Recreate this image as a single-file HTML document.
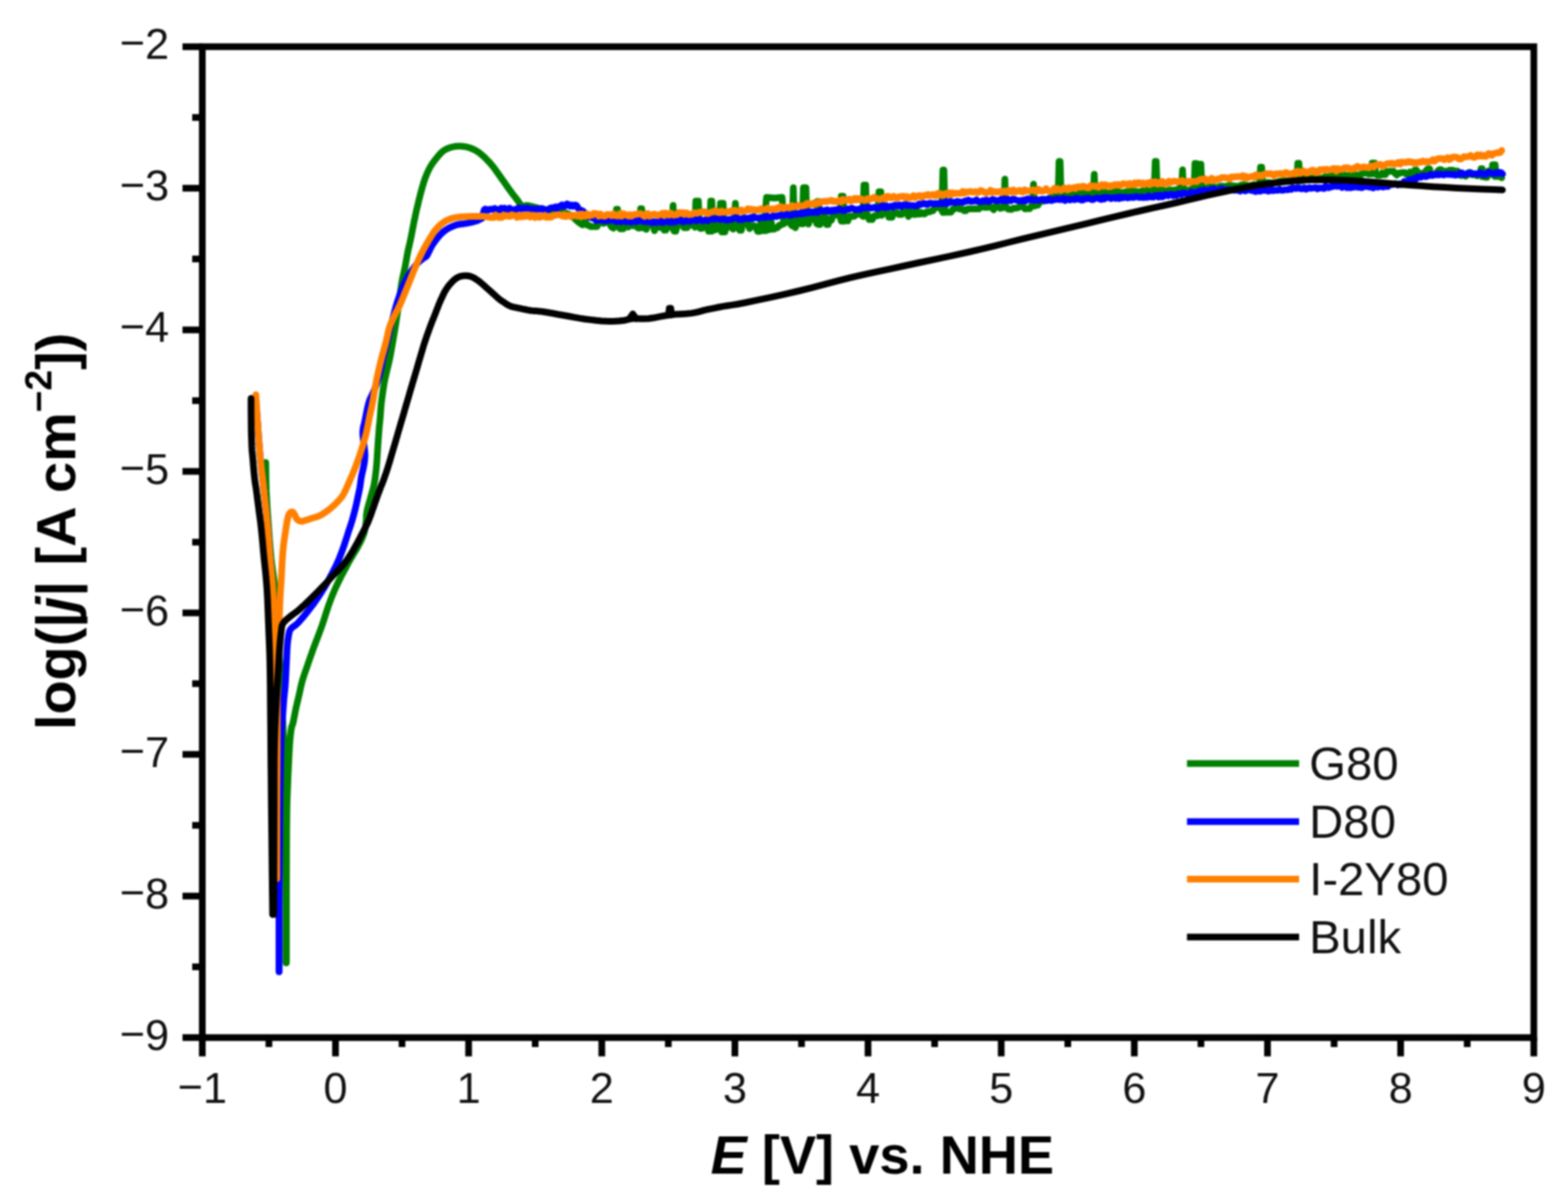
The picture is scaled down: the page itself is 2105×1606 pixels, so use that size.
<!DOCTYPE html>
<html><head><meta charset="utf-8"><title>Polarization curves</title>
<style>html,body{margin:0;padding:0;background:#fff;}body{width:2105px;height:1606px;overflow:hidden;}svg{display:block;filter:blur(0.8px);}</style>
</head><body><svg width="2105" height="1606" viewBox="0 0 2105 1606"><rect x="271.6" y="62.7" width="1787.5" height="1330.602" fill="none" stroke="#000" stroke-width="9"/><path d="M245.00000000000003,62.7H271.6M245.00000000000003,252.8H271.6M245.00000000000003,442.9H271.6M245.00000000000003,633.0H271.6M245.00000000000003,823.0H271.6M245.00000000000003,1013.1H271.6M245.00000000000003,1203.2H271.6M245.00000000000003,1393.3H271.6M258.0,157.7H271.6M258.0,347.8H271.6M258.0,537.9H271.6M258.0,728.0H271.6M258.0,918.1H271.6M258.0,1108.2H271.6M258.0,1298.3H271.6M271.6,1393.3V1418.5M450.4,1393.3V1418.5M629.1,1393.3V1418.5M807.9,1393.3V1418.5M986.6,1393.3V1418.5M1165.3,1393.3V1418.5M1344.1,1393.3V1418.5M1522.8,1393.3V1418.5M1701.6,1393.3V1418.5M1880.3,1393.3V1418.5M2059.1,1393.3V1418.5M361.0,1393.3V1405.9M539.7,1393.3V1405.9M718.5,1393.3V1405.9M897.2,1393.3V1405.9M1076.0,1393.3V1405.9M1254.7,1393.3V1405.9M1433.5,1393.3V1405.9M1612.2,1393.3V1405.9M1791.0,1393.3V1405.9M1969.7,1393.3V1405.9" stroke="#000" stroke-width="9" fill="none"/><g font-family="Liberation Sans, Arial, sans-serif" font-size="58" fill="#111"><text x="227" y="79.2" text-anchor="end"><tspan dy="-1.8">−</tspan><tspan dy="1.8">2</tspan></text><text x="227" y="269.3" text-anchor="end"><tspan dy="-1.8">−</tspan><tspan dy="1.8">3</tspan></text><text x="227" y="459.4" text-anchor="end"><tspan dy="-1.8">−</tspan><tspan dy="1.8">4</tspan></text><text x="227" y="649.5" text-anchor="end"><tspan dy="-1.8">−</tspan><tspan dy="1.8">5</tspan></text><text x="227" y="839.5" text-anchor="end"><tspan dy="-1.8">−</tspan><tspan dy="1.8">6</tspan></text><text x="227" y="1029.6" text-anchor="end"><tspan dy="-1.8">−</tspan><tspan dy="1.8">7</tspan></text><text x="227" y="1219.7" text-anchor="end"><tspan dy="-1.8">−</tspan><tspan dy="1.8">8</tspan></text><text x="227" y="1409.8" text-anchor="end"><tspan dy="-1.8">−</tspan><tspan dy="1.8">9</tspan></text><text x="271.6" y="1481" text-anchor="middle"><tspan dy="-1.8">−</tspan><tspan dy="1.8">1</tspan></text><text x="450.4" y="1481" text-anchor="middle">0</text><text x="629.1" y="1481" text-anchor="middle">1</text><text x="807.9" y="1481" text-anchor="middle">2</text><text x="986.6" y="1481" text-anchor="middle">3</text><text x="1165.3" y="1481" text-anchor="middle">4</text><text x="1344.1" y="1481" text-anchor="middle">5</text><text x="1522.8" y="1481" text-anchor="middle">6</text><text x="1701.6" y="1481" text-anchor="middle">7</text><text x="1880.3" y="1481" text-anchor="middle">8</text><text x="2059.1" y="1481" text-anchor="middle">9</text></g><text x="1184.5" y="1575.5" text-anchor="middle" font-family="Liberation Sans, Arial, sans-serif" font-weight="bold" font-size="72.8" fill="#000"><tspan font-style="italic">E</tspan> [V] vs. NHE</text><text transform="translate(101,713.5) rotate(-90)" text-anchor="middle" font-family="Liberation Sans, Arial, sans-serif" font-weight="bold" font-size="75" fill="#000">log(|<tspan font-style="italic">j</tspan>| [A cm<tspan font-size="50" dy="-32">−2</tspan><tspan dy="32">])</tspan></text><line x1="1593.5" y1="1025.3" x2="1744" y2="1025.3" stroke="#008000" stroke-width="9"/><text x="1757.5" y="1046.8" font-family="Liberation Sans, Arial, sans-serif" font-size="63.5" fill="#111">G80</text><line x1="1593.5" y1="1103.3" x2="1744" y2="1103.3" stroke="#0000ff" stroke-width="9"/><text x="1757.5" y="1124.8" font-family="Liberation Sans, Arial, sans-serif" font-size="63.5" fill="#111">D80</text><line x1="1593.5" y1="1180.5" x2="1744" y2="1180.5" stroke="#ff8000" stroke-width="9"/><text x="1757.5" y="1202.0" font-family="Liberation Sans, Arial, sans-serif" font-size="63.5" fill="#111">I-2Y80</text><line x1="1593.5" y1="1258.3" x2="1744" y2="1258.3" stroke="#000" stroke-width="9"/><text x="1757.5" y="1279.8" font-family="Liberation Sans, Arial, sans-serif" font-size="63.5" fill="#111">Bulk</text><polyline points="356.8,621.0 356.9,628.0 357.0,638.0 357.2,649.3 357.5,660.0 358.0,669.7 358.5,679.3 359.2,689.3 360.0,700.0 360.9,712.0 361.8,725.0 362.9,738.0 364.0,750.0 365.2,760.2 366.5,769.4 367.8,778.8 369.0,790.0 370.1,803.4 371.1,818.1 372.0,833.8 373.0,850.0 374.0,866.6 375.0,883.8 376.0,901.6 377.0,920.0 378.0,938.8 379.1,958.1 380.1,978.4 381.0,1000.0 381.7,1023.6 382.2,1048.8 382.6,1074.5 383.0,1100.0 383.3,1125.2 383.6,1150.4 383.8,1175.5 384.0,1200.0 384.1,1225.9 384.1,1252.8 384.0,1276.5 384.0,1293.0 384.5,1293.0 384.5,1276.5 384.5,1252.8 384.5,1225.9 384.5,1200.0 384.6,1174.1 384.7,1146.7 384.8,1120.9 385.0,1100.0 385.2,1086.2 385.4,1077.2 385.6,1069.7 386.0,1060.0 386.5,1046.4 387.2,1031.1 387.9,1016.2 388.6,1004.0 389.2,995.2 389.8,988.6 390.4,983.4 391.0,979.0 391.6,975.9 392.2,974.1 392.9,972.6 393.6,970.0 394.4,965.9 395.3,961.1 396.3,956.0 397.3,951.0 398.4,946.3 399.5,941.6 400.6,937.0 401.7,932.3 402.7,927.6 403.7,922.9 404.8,918.3 406.0,913.6 407.4,909.1 408.9,904.6 410.5,900.0 412.3,894.9 414.2,889.2 416.3,883.2 418.6,876.7 421.0,870.0 423.7,862.8 426.7,855.1 429.6,847.4 432.3,840.0 434.6,833.1 436.7,826.4 438.8,819.9 441.0,813.3 443.4,806.8 445.8,800.5 448.5,794.0 451.5,787.2 455.1,779.7 459.1,771.8 463.3,764.0 467.2,756.7 470.9,750.1 474.6,743.9 478.1,738.2 481.0,733.0 483.3,728.6 485.2,724.8 486.7,721.4 488.0,718.0 489.1,714.7 489.8,711.7 490.4,708.6 491.0,705.0 491.4,700.8 491.7,696.2 491.9,691.5 492.5,687.0 493.4,682.8 494.5,678.6 495.7,674.4 497.0,670.0 498.3,665.3 499.7,660.5 501.1,655.4 502.3,650.0 503.3,644.1 504.1,637.8 504.9,631.4 505.5,625.0 506.0,618.8 506.4,612.5 506.8,606.2 507.2,600.0 507.6,593.5 508.1,586.9 508.6,580.5 509.0,575.0 509.4,570.7 509.8,567.2 510.1,563.9 510.5,560.0 510.8,555.6 511.1,550.9 511.5,545.8 512.1,540.0 513.0,533.2 514.0,525.6 515.2,517.7 516.6,510.0 518.2,502.7 519.9,495.6 521.7,488.2 523.5,480.0 525.3,470.5 527.1,460.0 528.9,449.5 530.5,440.0 531.8,431.8 532.9,424.4 534.0,417.3 535.0,410.0 536.1,402.3 537.1,394.4 538.2,386.8 539.2,380.0 540.3,374.3 541.4,369.4 542.5,364.8 543.5,360.0 544.4,355.0 545.3,350.0 546.2,345.0 547.1,340.0 548.1,335.0 549.3,330.1 550.4,325.1 551.5,320.0 552.6,314.7 553.6,309.2 554.7,303.7 555.8,298.0 557.1,292.0 558.4,285.7 559.8,279.6 561.1,274.1 562.2,269.3 563.3,265.1 564.3,261.1 565.4,257.0 566.6,252.7 567.8,248.3 569.1,244.1 570.5,239.9 572.1,235.9 573.7,231.9 575.5,228.1 577.4,224.5 579.4,221.2 581.5,218.1 583.7,215.2 585.9,212.5 588.0,209.9 590.1,207.4 592.2,205.1 594.5,203.1 596.9,201.4 599.5,200.1 602.1,198.9 604.7,198.0 607.3,197.3 609.8,196.8 612.4,196.5 615.0,196.3 617.6,196.3 620.2,196.4 622.7,196.7 625.3,197.1 627.9,197.7 630.5,198.5 633.1,199.5 635.5,200.5 637.8,201.6 639.9,202.8 642.0,204.2 644.1,205.7 646.2,207.4 648.4,209.3 650.5,211.3 652.6,213.4 654.7,215.6 656.9,217.8 659.0,220.2 661.2,222.8 663.4,225.6 665.5,228.6 667.7,231.7 669.8,234.7 671.9,237.7 674.0,240.7 676.2,243.7 678.3,246.7 680.4,249.7 682.6,252.8 684.8,255.8 686.9,258.7 689.1,261.6 691.4,264.6 693.5,267.3 695.4,269.8 696.9,272.0 698.1,274.0 699.2,275.6 700.6,276.7 702.0,276.9 703.4,276.5 705.3,276.0 708.3,276.0 712.7,276.9 718.3,278.3 724.2,279.8 730.0,281.0 735.7,281.8 741.5,282.5 747.1,283.2 752.0,284.0 756.2,285.0 759.8,286.2 763.0,287.5 766.0,289.0 768.6,290.9 770.9,293.0 773.0,295.1 775.0,297.0 777.1,298.6 779.1,300.0 780.8,301.2 782.0,302.0 784.0,298.4 786.2,298.4 788.4,302.4 790.6,302.4 792.8,304.3 795.0,304.3 797.2,304.2 799.4,304.2 801.6,304.2 803.8,299.2 806.0,299.2 808.2,299.2 810.4,299.9 812.6,298.1 814.8,298.1 817.0,298.1 819.2,301.9 821.4,305.2 823.6,306.4 825.8,302.2 828.0,302.2 830.2,304.0 832.4,307.2 834.6,307.2 836.8,307.2 839.0,303.3 841.2,304.8 843.4,304.8 845.6,299.2 847.8,300.2 850.0,303.3 852.2,303.3 854.4,303.3 856.6,306.2 858.8,306.2 861.0,304.1 863.2,305.9 865.4,305.9 867.6,308.1 869.8,300.4 872.0,301.8 874.2,301.8 876.4,301.8 878.6,309.8 880.8,301.2 883.0,301.2 885.2,305.6 887.4,305.6 889.6,302.0 891.8,309.1 894.0,309.1 896.2,302.9 898.4,302.9 900.6,305.1 902.8,305.1 905.0,310.5 907.2,310.5 909.4,302.5 911.6,301.4 913.8,301.4 916.0,299.6 918.2,305.7 920.4,305.7 922.6,305.7 924.8,302.0 927.0,302.0 929.2,302.0 931.4,303.1 933.6,303.1 935.8,303.1 938.0,300.6 940.2,306.8 942.4,306.8 944.6,303.4 946.8,303.4 949.0,303.4 951.2,310.6 953.4,300.4 955.6,310.6 957.8,308.8 960.0,308.8 962.2,301.0 964.4,307.6 966.6,304.2 968.8,311.4 971.0,311.4 973.2,311.4 975.4,299.0 977.6,299.0 979.8,305.3 982.0,305.3 984.2,307.7 986.4,300.9 988.6,304.6 990.8,304.6 993.0,309.2 995.2,309.2 997.4,299.3 999.6,299.3 1001.8,299.0 1004.0,299.0 1006.2,307.1 1008.4,303.6 1010.6,303.0 1012.8,303.0 1015.0,306.1 1017.2,310.8 1019.4,310.8 1021.6,296.9 1023.8,309.8 1026.0,309.8 1028.2,309.8 1030.4,308.5 1032.6,308.5 1034.8,295.3 1037.0,307.8 1039.2,307.8 1041.4,305.9 1043.6,305.9 1045.8,302.6 1048.0,302.6 1050.2,300.4 1052.4,300.4 1054.6,297.4 1056.8,297.4 1059.0,297.4 1061.2,300.9 1063.4,303.4 1065.6,297.3 1067.8,305.8 1070.0,295.0 1072.2,295.0 1074.4,300.4 1076.6,300.4 1078.8,300.4 1081.0,296.3 1083.2,296.3 1085.4,300.9 1087.6,291.1 1089.8,294.9 1092.0,288.9 1094.2,288.9 1096.4,300.3 1098.6,301.4 1100.8,301.4 1103.0,289.3 1105.2,289.3 1107.4,289.3 1109.6,301.5 1111.8,301.5 1114.0,293.9 1116.2,295.8 1118.4,288.7 1120.6,288.7 1122.8,288.7 1125.0,288.7 1127.2,288.7 1129.4,296.9 1131.6,296.9 1133.8,296.9 1136.0,295.7 1138.2,296.7 1140.4,290.5 1142.6,290.5 1144.8,290.5 1147.0,290.5 1149.2,286.7 1151.4,287.7 1153.6,287.7 1155.8,287.7 1158.0,288.2 1160.2,287.1 1162.4,287.9 1164.6,287.9 1166.8,294.8 1169.0,294.8 1171.2,294.8 1173.4,289.7 1175.6,289.7 1177.8,289.7 1180.0,283.8 1182.2,283.8 1184.4,283.8 1186.6,282.8 1188.8,282.8 1191.0,282.8 1193.2,291.8 1195.4,291.8 1197.6,291.8 1199.8,285.4 1202.0,285.4 1204.2,285.4 1206.4,287.9 1208.6,287.9 1210.8,287.9 1213.0,282.9 1215.2,282.9 1217.4,282.9 1219.6,290.7 1221.8,284.5 1224.0,284.5 1226.2,288.1 1228.4,288.1 1230.6,280.9 1232.8,287.5 1235.0,287.5 1237.2,285.4 1239.4,287.3 1241.6,287.3 1243.8,284.5 1246.0,284.5 1248.2,284.5 1250.4,283.1 1252.6,283.1 1254.8,279.1 1257.0,278.8 1259.2,278.8 1261.4,278.5 1263.6,278.5 1265.8,285.3 1268.0,285.3 1270.2,284.9 1272.4,284.9 1274.6,285.1 1276.8,285.1 1279.0,280.7 1281.2,280.7 1283.4,278.9 1285.6,277.1 1287.8,280.7 1290.0,280.7 1292.2,280.7 1294.4,283.1 1296.6,283.1 1298.8,280.5 1301.0,280.5 1303.2,280.5 1305.4,280.6 1307.6,280.6 1309.8,280.6 1312.0,280.6 1314.2,280.6 1316.4,277.5 1318.6,277.5 1320.8,278.4 1323.0,278.4 1325.2,278.4 1327.4,278.3 1329.6,278.3 1331.8,278.3 1334.0,281.8 1336.2,276.8 1338.4,277.7 1340.6,277.7 1342.8,280.0 1345.0,279.0 1347.2,278.8 1349.4,278.8 1351.6,278.8 1353.8,281.1 1356.0,281.1 1358.2,281.2 1360.4,279.6 1362.6,279.4 1364.8,279.4 1367.0,279.1 1369.2,277.0 1371.4,277.3 1373.6,277.3 1375.8,280.5 1378.0,280.2 1380.2,280.2 1382.4,280.2 1384.6,276.5 1386.8,276.5 1389.0,276.5 1391.2,275.6 1393.4,275.6 1395.6,270.7 1397.8,270.7 1400.0,269.9 1402.2,269.9 1404.4,267.5 1406.6,267.5 1408.8,266.0 1411.0,266.0 1413.2,263.5 1415.4,260.7 1417.6,260.0 1419.8,260.0 1422.0,259.8 1424.2,259.8 1426.4,259.8 1428.6,261.6 1430.8,261.6 1433.0,261.4 1435.2,261.4 1437.4,260.0 1439.6,262.2 1441.8,259.3 1444.0,259.3 1446.2,259.4 1448.4,259.4 1450.6,261.4 1452.8,261.4 1455.0,259.0 1457.2,259.0 1459.4,259.0 1461.6,260.6 1463.8,260.6 1466.0,259.6 1468.2,258.9 1470.4,258.9 1472.6,258.9 1474.8,258.9 1477.0,258.9 1479.2,258.2 1481.4,258.2 1483.6,258.2 1485.8,259.5 1488.0,259.5 1490.2,259.5 1492.4,259.6 1494.6,258.7 1496.8,256.9 1499.0,257.0 1501.2,257.0 1503.4,258.8 1505.6,258.8 1507.8,258.8 1510.0,257.7 1512.2,257.7 1514.4,257.3 1516.6,257.3 1518.8,256.2 1521.0,256.7 1523.2,256.7 1525.4,257.4 1527.6,258.1 1529.8,257.3 1532.0,256.8 1534.2,256.2 1536.4,256.2 1538.6,255.1 1540.8,256.6 1543.0,256.6 1545.2,256.7 1547.4,256.7 1549.6,255.0 1551.8,255.1 1554.0,255.1 1556.2,255.9 1558.4,255.9 1560.6,254.7 1562.8,256.2 1565.0,256.2 1567.2,256.2 1569.4,255.0 1571.6,255.0 1573.8,256.0 1576.0,255.0 1578.2,255.0 1580.4,255.1 1582.6,253.3 1584.8,253.3 1587.0,254.5 1589.2,255.5 1591.4,255.5 1593.6,255.2 1595.8,255.2 1598.0,254.6 1600.2,254.5 1602.4,254.5 1604.6,254.5 1606.8,253.6 1609.0,254.7 1611.2,254.7 1613.4,252.1 1615.6,252.1 1617.8,253.9 1620.0,253.9 1622.2,250.8 1624.4,250.8 1626.6,250.9 1628.8,250.9 1631.0,251.8 1633.2,251.8 1635.4,251.6 1637.6,250.0 1639.8,250.0 1642.0,250.0 1644.2,250.5 1646.4,250.5 1648.6,249.2 1650.8,249.2 1653.0,249.2 1655.2,249.7 1657.4,249.7 1659.6,250.0 1661.8,250.0 1664.0,250.1 1666.2,248.4 1668.4,248.1 1670.6,248.1 1672.8,248.4 1675.0,249.2 1677.2,249.2 1679.4,249.2 1681.6,248.2 1683.8,248.0 1686.0,248.4 1688.2,248.4 1690.4,248.4 1692.6,246.2 1694.8,246.2 1697.0,246.2 1699.2,245.5 1701.4,245.1 1703.6,245.1 1705.8,245.8 1708.0,245.8 1710.2,245.8 1712.4,245.2 1714.6,245.2 1716.8,243.4 1719.0,243.4 1721.2,243.0 1723.4,243.0 1725.6,242.7 1727.8,242.7 1730.0,242.7 1732.2,243.9 1734.4,241.2 1736.6,241.2 1738.8,242.4 1741.0,242.4 1743.2,242.4 1745.4,242.9 1747.6,242.9 1749.8,239.9 1752.0,239.3 1754.2,239.3 1756.4,239.3 1758.6,239.4 1760.8,239.4 1763.0,238.6 1765.2,240.4 1767.4,240.4 1769.6,240.4 1771.8,239.5 1774.0,239.5 1776.2,238.5 1778.4,237.4 1780.6,237.5 1782.8,237.5 1785.0,236.6 1787.2,236.6 1789.4,236.6 1791.6,236.6 1793.8,236.6 1796.0,236.6 1798.2,236.2 1800.4,236.4 1802.6,234.8 1804.8,234.8 1807.0,235.8 1809.2,235.8 1811.4,235.8 1813.6,235.1 1815.8,235.1 1818.0,236.0 1820.2,235.4 1822.4,234.9 1824.6,235.3 1826.8,235.3 1829.0,232.5 1831.2,232.5 1833.4,232.5 1835.6,232.9 1837.8,233.8 1840.0,233.6 1842.2,233.6 1844.4,232.1 1846.6,232.1 1848.8,235.3 1851.0,235.3 1853.2,235.3 1855.4,232.3 1857.6,234.6 1859.8,234.6 1862.0,230.3 1864.2,230.3 1866.4,230.1 1868.6,230.1 1870.8,230.1 1873.0,233.1 1875.2,234.9 1877.4,232.5 1879.6,232.5 1881.8,231.7 1884.0,231.7 1886.2,231.7 1888.4,234.5 1890.6,234.5 1892.8,230.8 1895.0,232.1 1897.2,232.1 1899.4,228.3 1901.6,228.3 1903.8,233.0 1906.0,233.0 1908.2,232.8 1910.4,232.8 1912.6,232.8 1914.8,228.6 1917.0,226.7 1919.2,226.7 1921.4,234.2 1923.6,234.2 1925.8,234.2 1928.0,235.0 1930.2,229.4 1932.4,227.8 1934.6,227.8 1936.8,229.7 1939.0,229.7 1941.2,229.8 1943.4,231.5 1945.6,228.6 1947.8,228.6 1950.0,228.6 1952.2,229.2 1954.4,230.0 1956.6,229.6 1958.8,234.4 1961.0,235.9 1963.2,235.5 1965.4,234.0 1967.6,236.6 1969.8,235.0 1972.0,231.5 1974.2,231.5 1976.4,234.8 1978.6,234.8 1980.8,234.8 1983.0,236.1 1985.2,233.2 1987.4,233.2 1989.6,237.3 1991.8,237.3 1994.0,238.1 1996.2,238.1 1998.4,229.6 2000.6,229.6 2002.8,229.8 2005.0,229.8 2007.2,237.1 2009.4,237.1 2011.6,237.1 2013.8,234.3 2016.0,238.8" fill="none" stroke="#008000" stroke-width="9" stroke-linejoin="round" stroke-linecap="round"/><polyline points="826.4,302.9 827.6,281.0 829.1,281.0 830.4,302.9" fill="none" stroke="#008000" stroke-width="9" stroke-linejoin="round" stroke-linecap="round"/><polyline points="858.8,304.2 860.0,280.2 861.5,280.2 862.8,304.2" fill="none" stroke="#008000" stroke-width="9" stroke-linejoin="round" stroke-linecap="round"/><polyline points="902.4,305.1 903.6,275.8 903.6,275.8 904.8,305.1" fill="none" stroke="#008000" stroke-width="9" stroke-linejoin="round" stroke-linecap="round"/><polyline points="932.9,305.2 934.1,270.1 937.6,270.1 938.9,305.2" fill="none" stroke="#008000" stroke-width="9" stroke-linejoin="round" stroke-linecap="round"/><polyline points="952.9,305.3 954.1,270.1 955.6,270.1 956.9,305.3" fill="none" stroke="#008000" stroke-width="9" stroke-linejoin="round" stroke-linecap="round"/><polyline points="966.0,305.4 967.2,272.9 970.8,272.9 972.0,305.4" fill="none" stroke="#008000" stroke-width="9" stroke-linejoin="round" stroke-linecap="round"/><polyline points="986.0,305.4 987.2,272.9 987.2,272.9 988.4,305.4" fill="none" stroke="#008000" stroke-width="9" stroke-linejoin="round" stroke-linecap="round"/><polyline points="1063.8,299.2 1065.0,252.0 1065.0,252.0 1066.2,299.2" fill="none" stroke="#008000" stroke-width="9" stroke-linejoin="round" stroke-linecap="round"/><polyline points="1077.3,297.5 1078.5,252.0 1082.0,252.0 1083.2,297.5" fill="none" stroke="#008000" stroke-width="9" stroke-linejoin="round" stroke-linecap="round"/><polyline points="1096.3,295.7 1097.5,270.5 1099.0,270.5 1100.2,295.7" fill="none" stroke="#008000" stroke-width="9" stroke-linejoin="round" stroke-linecap="round"/><polyline points="1128.1,292.8 1129.3,263.5 1131.8,263.5 1133.0,292.8" fill="none" stroke="#008000" stroke-width="9" stroke-linejoin="round" stroke-linecap="round"/><polyline points="1158.5,290.7 1159.8,248.5 1162.2,248.5 1163.5,290.7" fill="none" stroke="#008000" stroke-width="9" stroke-linejoin="round" stroke-linecap="round"/><polyline points="1178.8,289.3 1180.0,257.5 1182.5,257.5 1183.8,289.3" fill="none" stroke="#008000" stroke-width="9" stroke-linejoin="round" stroke-linecap="round"/><polyline points="1264.5,283.0 1265.8,228.2 1267.2,228.2 1268.5,283.0" fill="none" stroke="#008000" stroke-width="9" stroke-linejoin="round" stroke-linecap="round"/><polyline points="1347.8,278.6 1349.0,240.5 1349.0,240.5 1350.2,278.6" fill="none" stroke="#008000" stroke-width="9" stroke-linejoin="round" stroke-linecap="round"/><polyline points="1386.2,276.7 1387.4,247.2 1387.4,247.2 1388.6,276.7" fill="none" stroke="#008000" stroke-width="9" stroke-linejoin="round" stroke-linecap="round"/><polyline points="1420.5,261.6 1421.7,216.8 1423.2,216.8 1424.4,261.6" fill="none" stroke="#008000" stroke-width="9" stroke-linejoin="round" stroke-linecap="round"/><polyline points="1467.8,259.4 1469.0,233.9 1469.0,233.9 1470.2,259.4" fill="none" stroke="#008000" stroke-width="9" stroke-linejoin="round" stroke-linecap="round"/><polyline points="1549.5,255.9 1550.8,216.8 1552.2,216.8 1553.5,255.9" fill="none" stroke="#008000" stroke-width="9" stroke-linejoin="round" stroke-linecap="round"/><polyline points="1586.3,254.5 1587.5,228.0 1587.5,228.0 1588.7,254.5" fill="none" stroke="#008000" stroke-width="9" stroke-linejoin="round" stroke-linecap="round"/><polyline points="1603.0,253.6 1604.2,219.5 1605.8,219.5 1607.0,253.6" fill="none" stroke="#008000" stroke-width="9" stroke-linejoin="round" stroke-linecap="round"/><polyline points="1608.5,253.1 1609.8,220.5 1612.2,220.5 1613.5,253.1" fill="none" stroke="#008000" stroke-width="9" stroke-linejoin="round" stroke-linecap="round"/><polyline points="1691.0,246.6 1692.2,224.5 1693.8,224.5 1695.0,246.6" fill="none" stroke="#008000" stroke-width="9" stroke-linejoin="round" stroke-linecap="round"/><polyline points="1741.0,241.7 1742.2,219.3 1743.8,219.3 1745.0,241.7" fill="none" stroke="#008000" stroke-width="9" stroke-linejoin="round" stroke-linecap="round"/><polyline points="1840.8,233.5 1842.0,219.0 1845.5,219.0 1846.7,233.5" fill="none" stroke="#008000" stroke-width="9" stroke-linejoin="round" stroke-linecap="round"/><polyline points="1987.0,234.2 1988.2,226.5 1989.8,226.5 1991.0,234.2" fill="none" stroke="#008000" stroke-width="9" stroke-linejoin="round" stroke-linecap="round"/><polyline points="2002.5,234.4 2003.8,221.2 2007.2,221.2 2008.5,234.4" fill="none" stroke="#008000" stroke-width="9" stroke-linejoin="round" stroke-linecap="round"/><polyline points="1026.0,303.0 1029.0,265.0 1040.0,266.0 1050.0,265.0 1052.0,300.5" fill="none" stroke="#008000" stroke-width="9" stroke-linejoin="round" stroke-linecap="round"/><polyline points="344.0,545.0 344.3,549.1 344.8,555.0 345.4,562.1 346.0,570.0 346.6,578.7 347.3,588.4 348.1,598.9 349.0,610.0 350.2,621.8 351.6,634.4 353.1,647.3 354.5,660.0 355.8,672.7 357.2,685.6 358.4,698.2 359.5,710.0 360.4,720.7 361.1,730.6 361.8,740.2 362.5,750.0 363.2,759.5 364.0,768.8 364.8,778.6 365.5,790.0 366.3,803.8 367.0,819.4 367.8,835.2 368.5,850.0 369.2,862.0 369.8,872.5 370.4,884.2 371.0,900.0 371.6,921.5 372.1,946.9 372.6,973.8 373.0,1000.0 373.3,1025.0 373.6,1050.0 373.8,1075.0 374.0,1100.0 374.2,1124.9 374.3,1149.7 374.4,1174.6 374.5,1200.0 374.5,1228.4 374.5,1258.8 374.5,1286.0 374.5,1305.0 374.8,1305.0 374.8,1286.0 374.9,1258.8 374.9,1228.4 375.0,1200.0 375.1,1173.2 375.2,1145.9 375.4,1120.7 375.5,1100.0 375.6,1086.5 375.7,1078.1 375.8,1070.7 376.0,1060.0 376.3,1043.6 376.7,1024.1 377.1,1005.0 377.5,990.0 377.9,980.6 378.4,974.7 378.9,970.2 379.3,965.0 379.7,958.6 380.1,952.2 380.6,945.9 381.0,940.0 381.5,934.9 382.0,930.3 382.5,925.6 383.0,920.0 383.4,913.0 383.8,905.0 384.2,897.0 384.5,890.0 384.8,884.2 385.0,879.0 385.2,874.3 385.5,870.0 385.8,866.0 386.1,862.4 386.5,859.1 387.0,856.0 387.5,853.0 388.0,850.2 388.7,847.5 390.0,845.0 391.9,842.9 394.2,841.2 396.9,839.3 400.0,836.5 403.5,832.6 407.5,828.0 411.6,822.9 415.6,817.8 419.6,812.6 423.5,807.1 427.4,801.5 431.1,796.0 434.5,790.5 437.7,784.9 440.8,779.4 443.6,774.2 446.2,769.3 448.6,764.5 450.9,760.0 452.9,755.6 454.8,751.4 456.4,747.3 457.9,743.4 459.2,740.0 460.2,737.2 461.0,735.0 461.8,732.7 462.7,730.0 463.8,726.6 465.0,722.8 466.3,718.9 467.5,715.0 468.7,711.2 470.0,707.5 471.2,703.8 472.4,700.0 473.5,696.2 474.5,692.5 475.5,688.8 476.5,685.0 477.4,681.2 478.3,677.5 479.1,673.8 479.9,670.0 480.7,666.2 481.5,662.5 482.3,658.8 483.0,655.0 483.6,651.2 484.1,647.5 484.6,643.8 485.2,640.0 486.0,636.2 486.9,632.4 487.8,628.6 488.5,625.0 489.1,621.6 489.5,618.3 489.8,615.1 490.0,612.0 489.9,609.1 489.7,606.4 489.4,603.5 489.0,600.0 488.5,595.4 487.8,590.2 487.2,584.8 487.0,580.0 487.4,575.9 488.1,572.2 489.1,568.6 489.9,565.0 490.6,561.2 491.4,557.3 492.1,553.5 492.9,550.0 493.6,546.8 494.3,543.8 495.1,540.9 496.0,538.0 497.1,535.2 498.4,532.6 499.7,529.9 501.0,527.0 502.4,523.8 503.8,520.4 505.1,516.9 506.5,513.0 507.8,508.7 509.2,504.1 510.4,499.4 511.5,495.0 512.3,491.2 513.0,487.6 513.7,484.0 514.5,480.0 515.6,475.4 516.9,470.3 518.2,465.1 519.5,460.0 520.7,454.9 521.8,449.7 522.9,444.6 524.0,440.0 525.0,435.9 526.0,432.2 527.0,428.6 528.0,425.0 529.0,421.2 529.9,417.5 530.9,413.8 532.0,410.0 533.2,406.2 534.4,402.5 535.7,398.8 537.0,395.0 538.4,391.2 539.8,387.4 541.3,383.7 543.0,380.0 544.8,376.4 546.8,372.8 548.9,369.3 551.0,366.0 553.2,362.7 555.5,359.6 557.8,356.6 560.0,354.0 562.1,351.8 564.2,350.0 566.2,348.4 568.0,347.0 569.5,346.0 570.7,345.4 571.9,344.7 573.2,343.1 574.7,340.4 576.3,337.0 578.0,333.3 579.9,329.8 582.2,326.4 584.7,322.9 587.3,319.5 589.9,316.5 592.3,314.0 594.6,311.7 597.1,309.8 599.8,307.9 602.9,306.1 606.2,304.5 609.7,303.1 613.1,301.9 616.4,301.2 619.7,300.7 623.1,300.4 626.4,299.9 629.9,299.2 633.6,298.3 637.1,297.4 640.0,296.5 642.4,295.5 644.4,294.5 645.9,293.6 647.0,293.0" fill="none" stroke="#0000ff" stroke-width="9" stroke-linejoin="round" stroke-linecap="round"/><polyline points="647.0,293.0 650.0,282.0 651.0,280.8 653.2,281.2 655.4,282.3 657.6,280.9 659.8,281.0 662.0,281.2 664.2,279.9 666.4,281.0 668.6,281.3 670.8,281.9 673.0,279.6 675.2,280.3 677.4,279.6 679.6,281.9 681.8,281.5 684.0,279.4 686.2,282.4 688.4,282.3 690.6,281.3 692.8,281.2 695.0,279.7 697.2,279.3 699.4,280.9 701.6,279.4 703.8,279.8 706.0,279.9 708.2,279.2 710.4,280.6 712.6,280.5 714.8,281.8 717.0,280.7 719.2,281.1 721.4,280.6 723.6,281.1 725.8,280.4 728.0,279.9 730.2,282.1 732.4,282.1 734.6,281.6 736.8,281.0 739.0,279.4 741.2,278.9 743.4,278.9 745.6,277.9 747.8,279.9 750.0,277.3 752.2,277.2 754.4,275.1 756.6,277.0 758.8,276.6 761.0,273.9 763.2,274.6 765.4,276.8 767.6,275.4 769.8,277.0 772.0,275.2 774.2,276.2 776.4,279.9 778.6,282.4 780.8,282.6 783.0,283.8 785.2,286.5 787.4,290.3 789.6,291.5 791.8,290.7 794.0,292.3 796.2,293.1 798.4,293.9 800.6,296.3 802.8,294.4 805.0,295.7 807.2,295.4 809.4,294.7 811.6,296.5 813.8,294.6 816.0,296.3 818.2,294.7 820.4,295.8 822.6,295.2 824.8,295.4 827.0,297.7 829.2,297.3 831.4,295.7 833.6,297.7 835.8,295.6 838.0,296.2 840.2,297.8 842.4,297.2 844.6,295.5 846.8,298.4 849.0,296.0 851.2,296.2 853.4,297.9 855.6,296.6 857.8,296.5 860.0,295.9 862.2,296.0 864.4,297.7 866.6,296.7 868.8,297.9 871.0,297.2 873.2,297.5 875.4,299.2 877.6,297.8 879.8,298.1 882.0,299.0 884.2,296.7 886.4,296.5 888.6,298.9 890.8,298.5 893.0,296.6 895.2,296.3 897.4,298.0 899.6,298.6 901.8,296.1 904.0,298.4 906.2,298.1 908.4,297.1 910.6,296.5 912.8,295.4 915.0,295.1 917.2,298.0 919.4,295.6 921.6,297.0 923.8,295.4 926.0,297.2 928.2,296.4 930.4,295.3 932.6,294.8 934.8,296.5 937.0,294.3 939.2,294.8 941.4,295.7 943.6,296.6 945.8,295.7 948.0,294.6 950.2,296.5 952.4,294.2 954.6,293.5 956.8,294.2 959.0,294.7 961.2,293.4 963.4,293.7 965.6,294.2 967.8,294.8 970.0,293.3 972.2,293.9 974.4,295.5 976.6,295.7 978.8,294.6 981.0,294.6 983.2,294.2 985.4,292.7 987.6,292.3 989.8,292.1 992.0,294.9 994.2,294.2 996.4,294.9 998.6,291.8 1000.8,293.7 1003.0,293.0 1005.2,293.6 1007.4,292.1 1009.6,294.0 1011.8,290.9 1014.0,292.2 1016.2,292.6 1018.4,292.9 1020.6,292.2 1022.8,291.9 1025.0,292.0 1027.2,292.2 1029.4,290.2 1031.6,291.1 1033.8,291.6 1036.0,291.3 1038.2,289.6 1040.4,290.6 1042.6,290.7 1044.8,289.5 1047.0,289.5 1049.2,288.5 1051.4,289.0 1053.6,288.9 1055.8,287.0 1058.0,288.5 1060.2,289.5 1062.4,288.9 1064.6,288.2 1066.8,286.9 1069.0,287.8 1071.2,287.0 1073.4,286.4 1075.6,287.4 1077.8,284.8 1080.0,286.7 1082.2,284.2 1084.4,285.8 1086.6,285.2 1088.8,284.2 1091.0,285.4 1093.2,284.6 1095.4,284.7 1097.6,285.5 1099.8,283.1 1102.0,282.1 1104.2,282.8 1106.4,283.8 1108.6,282.1 1110.8,281.8 1113.0,283.9 1115.2,282.9 1117.4,282.1 1119.6,283.4 1121.8,281.5 1124.0,282.4 1126.2,280.8 1128.4,281.4 1130.6,282.5 1132.8,282.7 1135.0,282.4 1137.2,280.7 1139.4,281.2 1141.6,280.2 1143.8,279.5 1146.0,280.5 1148.2,281.5 1150.4,281.4 1152.6,280.8 1154.8,281.4 1157.0,279.1 1159.2,278.7 1161.4,279.4 1163.6,278.7 1165.8,278.4 1168.0,278.9 1170.2,279.5 1172.4,278.9 1174.6,278.2 1176.8,279.7 1179.0,280.0 1181.2,278.2 1183.4,276.8 1185.6,276.5 1187.8,279.1 1190.0,276.3 1192.2,278.3 1194.4,277.7 1196.6,276.7 1198.8,278.1 1201.0,275.5 1203.2,275.7 1205.4,276.6 1207.6,275.1 1209.8,277.5 1212.0,275.5 1214.2,275.0 1216.4,274.6 1218.6,276.3 1220.8,275.6 1223.0,276.0 1225.2,276.0 1227.4,276.3 1229.6,276.6 1231.8,275.6 1234.0,273.9 1236.2,274.7 1238.4,273.6 1240.6,272.9 1242.8,274.2 1245.0,274.8 1247.2,272.9 1249.4,273.0 1251.6,273.0 1253.8,274.0 1256.0,273.2 1258.2,273.3 1260.4,273.6 1262.6,272.3 1264.8,273.4 1267.0,273.5 1269.2,270.7 1271.4,273.3 1273.6,272.4 1275.8,270.3 1278.0,271.2 1280.2,271.6 1282.4,272.3 1284.6,270.4 1286.8,270.8 1289.0,271.6 1291.2,271.2 1293.4,271.5 1295.6,269.8 1297.8,270.2 1300.0,268.6 1302.2,270.2 1304.4,270.5 1306.6,269.9 1308.8,270.1 1311.0,268.4 1313.2,270.6 1315.4,270.8 1317.6,270.8 1319.8,269.3 1322.0,270.1 1324.2,268.6 1326.4,270.4 1328.6,270.2 1330.8,268.6 1333.0,267.7 1335.2,268.8 1337.4,269.1 1339.6,269.8 1341.8,268.9 1344.0,267.4 1346.2,269.8 1348.4,267.4 1350.6,269.7 1352.8,267.7 1355.0,268.2 1357.2,269.6 1359.4,267.5 1361.6,267.5 1363.8,268.6 1366.0,269.3 1368.2,269.6 1370.4,269.1 1372.6,269.9 1374.8,268.4 1377.0,269.8 1379.2,267.0 1381.4,267.4 1383.6,268.4 1385.8,267.6 1388.0,269.0 1390.2,268.6 1392.4,268.2 1394.6,269.2 1396.8,268.3 1399.0,267.5 1401.2,267.7 1403.4,269.1 1405.6,269.3 1407.8,267.0 1410.0,269.1 1412.2,269.4 1414.4,267.9 1416.6,268.1 1418.8,266.9 1421.0,267.9 1423.2,267.8 1425.4,268.1 1427.6,266.2 1429.8,269.2 1432.0,267.7 1434.2,267.3 1436.4,268.5 1438.6,267.7 1440.8,267.5 1443.0,268.1 1445.2,266.0 1447.4,267.5 1449.6,267.0 1451.8,268.7 1454.0,268.5 1456.2,266.4 1458.4,267.0 1460.6,265.8 1462.8,266.7 1465.0,267.9 1467.2,268.1 1469.4,266.7 1471.6,266.1 1473.8,265.7 1476.0,267.0 1478.2,267.9 1480.4,265.3 1482.6,267.3 1484.8,264.8 1487.0,265.3 1489.2,265.4 1491.4,266.8 1493.6,265.6 1495.8,265.6 1498.0,266.4 1500.2,264.7 1502.4,266.6 1504.6,264.6 1506.8,265.8 1509.0,264.9 1511.2,264.7 1513.4,265.7 1515.6,265.3 1517.8,265.0 1520.0,265.0 1522.2,265.2 1524.4,263.9 1526.6,263.9 1528.8,265.1 1531.0,265.0 1533.2,264.5 1535.4,265.4 1537.6,264.5 1539.8,265.1 1542.0,263.0 1544.2,264.5 1546.4,264.6 1548.6,264.7 1550.8,262.7 1553.0,262.6 1555.2,264.4 1557.4,262.0 1559.6,264.4 1561.8,263.9 1564.0,261.3 1566.2,261.5 1568.4,262.9 1570.6,261.3 1572.8,260.7 1575.0,262.9 1577.2,261.4 1579.4,262.5 1581.6,260.1 1583.8,260.7 1586.0,261.3 1588.2,258.9 1590.4,259.1 1592.6,260.4 1594.8,260.8 1597.0,260.7 1599.2,257.7 1601.4,258.6 1603.6,259.1 1605.8,258.0 1608.0,258.3 1610.2,256.4 1612.4,255.8 1614.6,255.6 1616.8,255.1 1619.0,256.4 1621.2,256.0 1623.4,255.9 1625.6,254.2 1627.8,254.1 1630.0,253.8 1632.2,255.6 1634.4,256.1 1636.6,256.0 1638.8,253.4 1641.0,253.4 1643.2,256.3 1645.4,254.8 1647.6,255.8 1649.8,254.5 1652.0,255.0 1654.2,255.2 1656.4,255.0 1658.6,255.6 1660.8,253.8 1663.0,256.0 1665.2,256.6 1667.4,254.5 1669.6,255.4 1671.8,256.4 1674.0,255.4 1676.2,254.8 1678.4,254.8 1680.6,255.9 1682.8,254.4 1685.0,257.2 1687.2,256.8 1689.4,256.4 1691.6,256.8 1693.8,256.0 1696.0,255.1 1698.2,255.7 1700.4,255.3 1702.6,256.7 1704.8,256.0 1707.0,254.1 1709.2,256.1 1711.4,255.5 1713.6,255.5 1715.8,255.5 1718.0,254.1 1720.2,255.6 1722.4,255.4 1724.6,254.7 1726.8,254.8 1729.0,254.7 1731.2,253.5 1733.4,254.4 1735.6,252.2 1737.8,252.9 1740.0,253.2 1742.2,251.7 1744.4,252.7 1746.6,253.5 1748.8,253.3 1751.0,252.0 1753.2,254.1 1755.4,253.1 1757.6,252.0 1759.8,252.9 1762.0,252.5 1764.2,252.3 1766.4,251.7 1768.6,253.6 1770.8,252.3 1773.0,252.4 1775.2,252.5 1777.4,253.1 1779.6,249.9 1781.8,251.7 1784.0,252.0 1786.2,250.4 1788.4,250.7 1790.6,249.5 1792.8,249.9 1795.0,250.3 1797.2,249.3 1799.4,249.7 1801.6,251.8 1803.8,250.7 1806.0,250.6 1808.2,252.1 1810.4,250.8 1812.6,252.2 1814.8,251.1 1817.0,251.6 1819.2,249.3 1821.4,251.0 1823.6,251.5 1825.8,249.3 1828.0,252.1 1830.2,249.7 1832.4,250.7 1834.6,249.8 1836.8,250.8 1839.0,251.2 1841.2,249.5 1843.4,252.3 1845.6,250.7 1847.8,251.0 1850.0,251.3 1852.2,250.5 1854.4,250.3 1856.6,251.2 1858.8,250.6 1861.0,249.3 1863.2,250.4 1865.4,248.7 1867.6,247.4 1869.8,247.8 1872.0,246.8 1874.2,246.8 1876.4,248.4 1878.6,246.9 1880.8,248.0 1883.0,246.7 1885.2,243.6 1887.4,245.8 1889.6,244.8 1891.8,241.2 1894.0,243.0 1896.2,240.6 1898.4,239.9 1900.6,240.7 1902.8,237.5 1905.0,237.6 1907.2,238.1 1909.4,236.7 1911.6,235.8 1913.8,237.3 1916.0,236.6 1918.2,235.8 1920.4,234.1 1922.6,235.7 1924.8,235.0 1927.0,234.1 1929.2,233.5 1931.4,234.9 1933.6,233.5 1935.8,234.4 1938.0,235.0 1940.2,234.2 1942.4,233.4 1944.6,234.3 1946.8,233.7 1949.0,234.7 1951.2,233.8 1953.4,235.2 1955.6,234.9 1957.8,234.1 1960.0,232.4 1962.2,231.9 1964.4,234.3 1966.6,233.9 1968.8,233.4 1971.0,232.5 1973.2,232.3 1975.4,233.6 1977.6,233.2 1979.8,233.3 1982.0,233.4 1984.2,233.8 1986.4,232.0 1988.6,232.2 1990.8,234.5 1993.0,234.3 1995.2,234.2 1997.4,231.5 1999.6,231.6 2001.8,232.3 2004.0,232.8 2006.2,233.4 2008.4,231.7 2010.6,233.1 2012.8,231.6 2015.0,231.7 2017.2,233.6" fill="none" stroke="#0000ff" stroke-width="9" stroke-linejoin="round" stroke-linecap="round"/><polyline points="343.5,530.0 343.9,537.2 344.6,547.5 345.3,559.1 346.0,570.0 346.7,579.8 347.3,589.4 348.1,599.3 349.0,610.0 350.2,621.8 351.6,634.4 353.1,647.3 354.5,660.0 355.8,672.7 357.2,685.6 358.4,698.2 359.5,710.0 360.4,720.7 361.1,730.6 361.8,740.2 362.5,750.0 363.4,759.5 364.3,768.8 365.2,778.6 366.0,790.0 366.7,803.8 367.4,819.4 368.0,835.2 368.5,850.0 368.9,862.0 369.1,872.5 369.3,884.2 369.5,900.0 369.8,921.5 370.0,946.9 370.3,973.8 370.5,1000.0 370.7,1025.5 370.8,1051.2 370.9,1076.4 371.0,1100.0 371.1,1123.3 371.3,1146.2 371.4,1166.1 371.5,1180.0 371.5,1180.0 371.5,1166.1 371.5,1146.2 371.5,1123.3 371.5,1100.0 371.6,1076.4 371.7,1051.2 371.9,1025.5 372.0,1000.0 372.1,973.5 372.2,945.9 372.3,920.4 372.5,900.0 372.7,886.7 372.9,878.4 373.2,872.2 373.5,865.0 373.8,856.1 374.2,847.2 374.6,838.4 375.0,830.0 375.3,821.9 375.6,814.1 375.9,806.7 376.2,800.0 376.5,794.8 376.8,790.6 377.1,786.2 377.5,780.0 378.0,771.2 378.5,760.6 379.1,749.8 379.8,740.0 380.7,731.4 381.8,723.4 382.9,716.2 383.8,710.0 384.6,705.0 385.2,701.0 385.9,697.8 386.5,695.0 387.1,692.8 387.7,691.2 388.3,690.0 389.0,689.0 389.8,688.2 390.6,687.7 391.5,687.5 392.3,687.5 393.0,687.7 393.6,688.2 394.3,689.0 395.0,690.0 395.8,691.5 396.6,693.5 397.5,695.4 398.5,697.0 399.7,698.1 401.0,699.0 402.5,699.7 404.0,700.0 405.6,700.0 407.3,699.6 409.1,699.0 411.0,698.4 413.1,697.8 415.3,697.1 417.6,696.3 420.0,695.5 422.3,694.8 424.7,694.2 427.2,693.3 430.0,692.0 433.3,690.1 437.0,687.7 440.8,685.0 444.5,682.0 448.3,678.6 452.1,674.9 455.8,671.0 459.0,667.0 461.5,663.1 463.5,659.1 465.4,654.9 467.5,650.0 470.0,644.3 472.8,638.0 475.5,631.4 478.0,625.0 480.3,618.6 482.6,612.2 484.6,605.9 486.5,600.0 488.1,594.6 489.5,589.7 490.8,584.9 492.0,580.0 493.1,575.0 494.1,570.0 495.0,565.0 496.0,560.0 497.0,555.2 498.1,550.6 499.2,545.7 500.3,540.0 501.5,533.2 502.7,525.6 504.1,517.7 505.5,510.0 507.2,502.3 509.0,494.4 510.8,486.8 512.5,480.0 514.0,474.3 515.4,469.4 516.7,464.8 518.0,460.0 519.2,454.9 520.3,449.7 521.4,444.6 522.7,440.0 524.1,435.9 525.7,432.2 527.3,428.6 529.0,425.0 530.7,421.6 532.4,418.4 534.3,414.8 536.6,410.0 539.5,403.3 542.8,395.3 546.1,387.1 549.0,380.0 551.3,374.3 553.2,369.4 555.0,364.8 557.0,360.0 559.1,355.0 561.3,350.0 563.6,345.0 566.0,340.0 568.7,334.8 571.6,329.6 574.5,324.5 577.2,320.0 579.6,316.1 581.8,312.6 584.0,309.5 586.5,306.5 589.2,303.6 592.2,301.0 595.3,298.6 598.5,296.6 601.8,295.0 605.3,293.7 609.0,292.7 613.1,291.9 617.8,291.3 623.0,291.0 628.2,290.8 633.1,290.6 637.9,290.5 642.8,290.5 647.0,290.5 650.0,290.5 652.0,291.0 654.2,291.4 656.4,291.6 658.6,292.2 660.8,291.4 663.0,292.1 665.2,288.5 667.4,290.3 669.6,292.2 671.8,291.0 674.0,292.0 676.2,288.8 678.4,290.2 680.6,289.3 682.8,290.5 685.0,290.6 687.2,288.3 689.4,289.1 691.6,289.4 693.8,291.9 696.0,291.3 698.2,288.8 700.4,291.4 702.6,288.7 704.8,290.7 707.0,288.7 709.2,288.2 711.4,291.6 713.6,289.0 715.8,289.0 718.0,292.1 720.2,291.6 722.4,289.3 724.6,292.0 726.8,290.3 729.0,290.8 731.2,288.9 733.4,291.9 735.6,290.8 737.8,291.9 740.0,291.6 742.2,289.3 744.4,289.5 746.6,288.7 748.8,288.6 751.0,288.3 753.2,289.2 755.4,290.4 757.6,288.0 759.8,290.7 762.0,289.3 764.2,289.1 766.4,291.0 768.6,289.6 770.8,288.9 773.0,289.4 775.2,290.2 777.4,287.6 779.6,291.2 781.8,287.3 784.0,290.1 786.2,290.4 788.4,287.0 790.6,290.0 792.8,288.2 795.0,289.0 797.2,286.6 799.4,286.7 801.6,287.2 803.8,290.3 806.0,287.3 808.2,289.5 810.4,290.2 812.6,290.3 814.8,287.9 817.0,287.9 819.2,288.6 821.4,289.6 823.6,286.9 825.8,289.5 828.0,289.7 830.2,289.9 832.4,286.6 834.6,290.3 836.8,286.9 839.0,287.9 841.2,288.9 843.4,290.2 845.6,287.9 847.8,290.2 850.0,288.7 852.2,287.7 854.4,287.8 856.6,287.2 858.8,286.8 861.0,287.1 863.2,289.3 865.4,290.5 867.6,287.1 869.8,286.7 872.0,290.4 874.2,288.6 876.4,288.1 878.6,287.4 880.8,288.8 883.0,289.7 885.2,288.1 887.4,287.8 889.6,286.2 891.8,289.6 894.0,285.9 896.2,287.7 898.4,288.9 900.6,286.0 902.8,288.3 905.0,289.0 907.2,287.7 909.4,288.2 911.6,285.3 913.8,286.5 916.0,285.3 918.2,288.0 920.4,285.7 922.6,286.2 924.8,288.3 927.0,287.6 929.2,287.9 931.4,285.7 933.6,285.8 935.8,286.6 938.0,285.5 940.2,284.7 942.4,285.0 944.6,283.9 946.8,284.7 949.0,287.0 951.2,286.8 953.4,285.3 955.6,284.7 957.8,284.0 960.0,282.9 962.2,283.5 964.4,285.4 966.6,285.6 968.8,283.5 971.0,285.1 973.2,284.9 975.4,284.5 977.6,284.3 979.8,284.5 982.0,282.9 984.2,284.1 986.4,282.3 988.6,283.0 990.8,284.0 993.0,283.6 995.2,281.9 997.4,284.4 999.6,283.1 1001.8,282.7 1004.0,280.2 1006.2,282.2 1008.4,280.8 1010.6,282.3 1012.8,281.3 1015.0,282.6 1017.2,281.7 1019.4,282.2 1021.6,280.2 1023.8,281.2 1026.0,281.4 1028.2,281.6 1030.4,279.5 1032.6,281.3 1034.8,281.2 1037.0,280.3 1039.2,281.3 1041.4,281.1 1043.6,279.1 1045.8,279.0 1048.0,277.4 1050.2,279.9 1052.4,280.1 1054.6,278.1 1056.8,278.8 1059.0,278.6 1061.2,278.4 1063.4,275.9 1065.6,278.1 1067.8,277.0 1070.0,277.1 1072.2,275.8 1074.4,276.4 1076.6,276.7 1078.8,275.9 1081.0,275.9 1083.2,272.9 1085.4,273.2 1087.6,274.0 1089.8,274.6 1092.0,272.6 1094.2,274.2 1096.4,273.7 1098.6,271.1 1100.8,272.5 1103.0,271.3 1105.2,270.3 1107.4,270.3 1109.6,270.8 1111.8,270.0 1114.0,269.8 1116.2,269.0 1118.4,270.5 1120.6,270.0 1122.8,270.8 1125.0,270.5 1127.2,268.9 1129.4,271.4 1131.6,267.6 1133.8,269.1 1136.0,268.4 1138.2,268.7 1140.4,267.4 1142.6,270.1 1144.8,268.1 1147.0,266.5 1149.2,268.7 1151.4,266.4 1153.6,268.1 1155.8,267.1 1158.0,267.8 1160.2,269.2 1162.4,268.5 1164.6,266.7 1166.8,268.1 1169.0,267.2 1171.2,266.0 1173.4,264.9 1175.6,266.7 1177.8,266.4 1180.0,267.9 1182.2,267.8 1184.4,266.3 1186.6,265.1 1188.8,267.2 1191.0,263.5 1193.2,263.8 1195.4,265.5 1197.6,265.6 1199.8,263.6 1202.0,265.4 1204.2,266.4 1206.4,264.2 1208.6,264.3 1210.8,263.4 1213.0,263.5 1215.2,266.1 1217.4,263.7 1219.6,265.9 1221.8,265.6 1224.0,264.2 1226.2,262.7 1228.4,265.5 1230.6,263.5 1232.8,263.0 1235.0,262.5 1237.2,265.1 1239.4,263.0 1241.6,262.0 1243.8,262.6 1246.0,261.0 1248.2,262.8 1250.4,261.9 1252.6,261.1 1254.8,262.9 1257.0,262.9 1259.2,259.5 1261.4,261.3 1263.6,260.1 1265.8,262.6 1268.0,261.8 1270.2,259.5 1272.4,259.4 1274.6,258.7 1276.8,261.9 1279.0,258.9 1281.2,260.0 1283.4,259.3 1285.6,259.8 1287.8,259.4 1290.0,259.8 1292.2,257.1 1294.4,259.5 1296.6,257.5 1298.8,258.2 1301.0,257.3 1303.2,257.1 1305.4,258.0 1307.6,257.7 1309.8,257.2 1312.0,258.7 1314.2,258.0 1316.4,255.8 1318.6,256.6 1320.8,257.4 1323.0,259.2 1325.2,259.0 1327.4,257.6 1329.6,255.4 1331.8,258.4 1334.0,257.0 1336.2,257.5 1338.4,258.0 1340.6,257.6 1342.8,257.0 1345.0,258.6 1347.2,256.5 1349.4,256.5 1351.6,258.3 1353.8,255.6 1356.0,255.9 1358.2,258.0 1360.4,254.9 1362.6,258.0 1364.8,257.3 1367.0,256.2 1369.2,255.6 1371.4,257.5 1373.6,258.0 1375.8,254.9 1378.0,256.2 1380.2,256.4 1382.4,256.2 1384.6,255.4 1386.8,254.7 1389.0,256.4 1391.2,257.2 1393.4,254.1 1395.6,254.6 1397.8,256.8 1400.0,256.6 1402.2,256.0 1404.4,253.3 1406.6,255.9 1408.8,256.8 1411.0,256.8 1413.2,255.5 1415.4,252.7 1417.6,255.8 1419.8,253.2 1422.0,254.7 1424.2,255.8 1426.4,254.7 1428.6,252.3 1430.8,252.8 1433.0,255.2 1435.2,252.0 1437.4,253.7 1439.6,252.8 1441.8,251.7 1444.0,253.3 1446.2,250.7 1448.4,250.8 1450.6,251.6 1452.8,250.2 1455.0,249.9 1457.2,251.7 1459.4,252.2 1461.6,252.5 1463.8,249.3 1466.0,250.2 1468.2,249.5 1470.4,250.5 1472.6,249.9 1474.8,251.6 1477.0,249.2 1479.2,247.8 1481.4,250.3 1483.6,248.0 1485.8,249.8 1488.0,249.1 1490.2,250.6 1492.4,249.1 1494.6,249.3 1496.8,247.7 1499.0,248.8 1501.2,247.5 1503.4,249.3 1505.6,248.3 1507.8,246.6 1510.0,246.9 1512.2,247.3 1514.4,248.7 1516.6,246.3 1518.8,248.3 1521.0,248.0 1523.2,245.6 1525.4,247.8 1527.6,245.3 1529.8,245.4 1532.0,247.1 1534.2,245.6 1536.4,248.0 1538.6,246.3 1540.8,245.5 1543.0,247.3 1545.2,244.1 1547.4,246.8 1549.6,244.0 1551.8,244.3 1554.0,247.3 1556.2,246.1 1558.4,244.2 1560.6,243.6 1562.8,246.9 1565.0,245.6 1567.2,246.1 1569.4,243.2 1571.6,245.1 1573.8,243.9 1576.0,243.3 1578.2,243.5 1580.4,244.5 1582.6,243.4 1584.8,243.5 1587.0,242.4 1589.2,245.1 1591.4,244.3 1593.6,244.9 1595.8,243.4 1598.0,245.0 1600.2,243.6 1602.4,243.7 1604.6,243.4 1606.8,243.9 1609.0,242.3 1611.2,240.9 1613.4,240.5 1615.6,241.0 1617.8,240.1 1620.0,243.4 1622.2,241.5 1624.4,242.5 1626.6,239.2 1628.8,240.9 1631.0,242.4 1633.2,241.2 1635.4,240.2 1637.6,240.2 1639.8,238.5 1642.0,238.5 1644.2,238.4 1646.4,239.1 1648.6,238.9 1650.8,240.7 1653.0,237.6 1655.2,237.8 1657.4,237.7 1659.6,237.1 1661.8,237.4 1664.0,237.0 1666.2,237.8 1668.4,235.8 1670.6,239.2 1672.8,236.8 1675.0,238.9 1677.2,237.7 1679.4,237.4 1681.6,236.5 1683.8,238.2 1686.0,234.7 1688.2,236.7 1690.4,235.0 1692.6,236.3 1694.8,236.4 1697.0,233.9 1699.2,233.9 1701.4,233.0 1703.6,233.7 1705.8,232.9 1708.0,234.0 1710.2,236.1 1712.4,233.5 1714.6,233.2 1716.8,233.6 1719.0,232.7 1721.2,234.3 1723.4,234.1 1725.6,231.7 1727.8,231.9 1730.0,233.4 1732.2,234.3 1734.4,233.0 1736.6,232.0 1738.8,234.0 1741.0,230.0 1743.2,230.0 1745.4,232.7 1747.6,231.1 1749.8,229.4 1752.0,231.3 1754.2,232.9 1756.4,230.8 1758.6,230.0 1760.8,228.8 1763.0,228.6 1765.2,231.7 1767.4,229.9 1769.6,231.5 1771.8,227.8 1774.0,228.4 1776.2,227.5 1778.4,228.7 1780.6,227.2 1782.8,227.8 1785.0,228.3 1787.2,227.7 1789.4,226.5 1791.6,226.3 1793.8,229.9 1796.0,226.5 1798.2,227.7 1800.4,227.1 1802.6,227.4 1804.8,225.4 1807.0,226.1 1809.2,225.0 1811.4,226.5 1813.6,227.8 1815.8,226.3 1818.0,227.1 1820.2,224.4 1822.4,223.4 1824.6,225.2 1826.8,224.8 1829.0,224.9 1831.2,223.9 1833.4,224.7 1835.6,224.9 1837.8,225.4 1840.0,222.8 1842.2,223.1 1844.4,224.4 1846.6,221.8 1848.8,221.1 1851.0,221.7 1853.2,220.6 1855.4,223.1 1857.6,223.1 1859.8,220.8 1862.0,219.9 1864.2,219.5 1866.4,219.9 1868.6,219.0 1870.8,220.2 1873.0,220.6 1875.2,219.0 1877.4,218.1 1879.6,220.4 1881.8,217.6 1884.0,218.0 1886.2,218.1 1888.4,218.2 1890.6,216.9 1892.8,218.0 1895.0,217.3 1897.2,218.9 1899.4,217.9 1901.6,219.0 1903.8,217.8 1906.0,218.0 1908.2,217.1 1910.4,216.3 1912.6,217.6 1914.8,216.8 1917.0,217.8 1919.2,216.6 1921.4,216.3 1923.6,214.4 1925.8,216.4 1928.0,214.4 1930.2,213.2 1932.4,212.7 1934.6,212.9 1936.8,213.1 1939.0,214.6 1941.2,212.8 1943.4,211.7 1945.6,214.3 1947.8,213.2 1950.0,210.9 1952.2,210.8 1954.4,210.9 1956.6,211.6 1958.8,213.4 1961.0,213.6 1963.2,212.0 1965.4,210.3 1967.6,210.8 1969.8,210.4 1972.0,210.0 1974.2,208.6 1976.4,210.6 1978.6,211.4 1980.8,210.8 1983.0,208.0 1985.2,209.6 1987.4,207.9 1989.6,209.9 1991.8,208.5 1994.0,210.1 1996.2,209.1 1998.4,206.1 2000.6,206.5 2002.8,208.5 2005.0,206.3 2007.2,205.9 2009.4,205.1 2011.6,205.3 2013.8,204.8 2016.0,202.1" fill="none" stroke="#ff8000" stroke-width="9" stroke-linejoin="round" stroke-linecap="round"/><polyline points="337.0,535.0 337.0,541.4 337.0,550.6 337.1,560.8 337.2,570.0 337.3,578.2 337.5,586.2 337.8,593.7 338.0,600.0 338.3,604.6 338.6,607.8 338.9,610.9 339.3,615.0 339.8,620.7 340.3,627.2 340.9,633.9 341.5,640.0 342.1,645.2 342.8,650.0 343.6,654.8 344.3,660.0 345.1,665.9 345.9,672.2 346.7,678.6 347.5,685.0 348.3,690.9 349.1,696.6 349.9,702.7 350.7,710.0 351.6,718.9 352.6,729.1 353.5,739.6 354.5,750.0 355.5,759.5 356.5,768.8 357.4,778.6 358.3,790.0 359.1,803.8 359.7,819.4 360.3,835.2 360.9,850.0 361.4,862.0 361.8,872.5 362.2,884.2 362.5,900.0 362.8,921.5 363.0,946.9 363.3,973.8 363.5,1000.0 363.7,1024.3 364.0,1048.2 364.2,1073.0 364.5,1100.0 364.9,1133.0 365.3,1170.2 365.7,1204.3 366.0,1228.0 367.5,1228.0 367.6,1204.3 367.7,1170.2 367.9,1133.0 368.0,1100.0 368.1,1072.1 368.1,1045.8 368.2,1021.5 368.5,1000.0 369.0,981.7 369.6,966.2 370.3,952.7 371.0,940.0 371.6,928.4 372.3,918.2 372.9,909.0 373.5,900.0 374.0,891.2 374.5,882.8 375.0,875.0 375.5,868.0 376.0,861.9 376.5,856.7 377.0,852.1 377.5,848.0 377.9,844.6 378.2,841.8 378.8,839.4 380.0,837.0 382.0,834.5 384.5,832.0 387.3,829.7 390.0,827.5 392.4,825.6 394.8,823.9 397.3,822.1 400.0,820.0 402.8,817.6 405.7,814.9 408.9,812.0 412.5,808.5 416.7,804.4 421.4,799.8 426.3,794.9 431.1,790.0 436.0,784.9 441.0,779.5 445.8,774.3 449.8,770.0 452.9,766.8 455.3,764.5 457.3,762.4 459.5,760.0 461.8,757.3 463.9,754.5 466.2,751.5 468.5,748.0 471.1,743.9 473.9,739.2 476.6,734.4 479.1,730.0 481.3,726.0 483.2,722.3 485.1,718.7 487.0,715.0 489.0,711.2 490.9,707.5 492.8,703.8 494.5,700.0 496.0,696.2 497.4,692.5 498.7,688.8 500.0,685.0 501.4,681.2 502.7,677.4 504.0,673.6 505.3,670.0 506.5,666.6 507.6,663.4 508.8,660.3 510.0,657.0 511.3,653.7 512.7,650.3 514.1,646.8 515.5,643.0 516.9,638.9 518.4,634.7 519.9,630.1 521.5,625.0 523.3,619.1 525.2,612.6 527.1,606.1 528.9,600.0 530.5,594.6 531.9,589.7 533.3,584.9 534.7,580.0 536.2,575.0 537.6,570.0 539.1,565.0 540.6,560.0 542.0,555.2 543.3,550.6 544.7,545.7 546.4,540.0 548.4,533.2 550.6,525.6 552.9,517.7 555.2,510.0 557.5,502.3 559.8,494.4 562.0,486.8 564.0,480.0 565.7,474.3 567.1,469.4 568.5,464.8 570.0,460.0 571.7,455.0 573.4,449.9 575.2,444.9 577.0,440.0 578.8,435.2 580.6,430.5 582.5,425.9 584.3,421.3 586.1,416.7 587.9,412.1 589.6,407.7 591.4,403.5 593.2,399.6 595.0,395.8 596.7,392.3 598.5,389.2 600.3,386.5 602.0,384.1 603.8,381.9 605.6,379.9 607.4,378.0 609.2,376.3 611.0,374.8 612.8,373.5 614.6,372.5 616.4,371.7 618.1,371.1 619.9,370.7 621.7,370.4 623.5,370.2 625.2,370.2 627.0,370.3 628.8,370.5 630.5,370.9 632.3,371.4 634.1,372.1 635.9,373.0 637.7,374.0 639.5,375.2 641.3,376.4 643.1,377.7 644.9,379.1 646.6,380.6 648.4,382.1 650.2,383.7 651.9,385.3 653.7,386.9 655.5,388.5 657.3,390.1 659.1,391.7 660.9,393.3 662.7,394.9 664.5,396.5 666.3,398.2 668.0,399.8 669.8,401.3 671.6,402.7 673.3,403.9 675.1,405.1 676.9,406.3 678.7,407.5 680.4,408.6 682.2,409.7 684.0,410.6 685.8,411.3 687.6,411.8 689.4,412.3 691.2,412.7 692.8,413.1 694.3,413.3 696.0,413.7 698.3,414.1 701.3,414.8 704.8,415.5 708.7,416.3 712.5,417.0 716.1,417.4 719.6,417.6 723.6,417.9 728.5,418.5 734.7,419.5 742.0,420.8 749.6,422.2 757.0,423.5 764.1,424.8 771.2,426.1 778.4,427.4 785.5,428.5 792.8,429.4 800.2,430.3 807.4,430.9 814.0,431.3 820.0,431.4 825.6,431.3 830.7,431.0 835.4,430.6 839.3,430.0 842.5,429.2 845.7,428.4 849.6,427.8 854.3,427.7 859.4,427.9 865.0,428.1 871.0,427.8 877.6,426.8 884.8,425.4 892.2,424.0 899.5,422.8 906.8,422.1 914.2,421.7 921.4,421.3 928.0,420.6 933.8,419.6 939.1,418.3 944.2,416.9 949.4,415.7 954.6,414.6 959.6,413.6 964.9,412.5 970.8,411.4 976.6,410.5 982.3,409.6 989.6,408.5 1000.0,406.5 1014.8,403.4 1032.9,399.6 1052.2,395.3 1071.0,391.0 1088.8,386.6 1106.7,381.9 1124.6,377.2 1142.5,372.7 1160.0,368.7 1177.3,364.9 1195.1,361.1 1214.0,357.0 1234.8,352.5 1257.0,347.9 1279.2,343.1 1300.0,338.5 1318.9,334.1 1336.6,329.8 1353.8,325.5 1371.3,321.2 1389.1,316.9 1406.9,312.6 1424.7,308.4 1442.5,304.1 1460.4,299.8 1478.5,295.4 1496.3,291.1 1513.8,287.0 1531.0,283.0 1548.1,279.2 1564.6,275.5 1580.0,272.0 1594.0,268.7 1606.9,265.6 1619.3,262.7 1632.0,259.8 1645.1,257.0 1658.2,254.2 1671.4,251.6 1684.5,249.3 1698.1,247.3 1712.0,245.6 1725.2,244.1 1736.7,243.0 1745.8,242.2 1753.1,241.8 1759.7,241.6 1767.0,241.5 1775.1,241.5 1783.5,241.6 1791.9,241.8 1800.0,242.0 1807.0,242.2 1813.2,242.5 1820.3,242.9 1830.0,243.5 1843.2,244.5 1858.9,245.8 1875.7,247.2 1892.0,248.5 1907.7,249.6 1923.5,250.7 1939.3,251.6 1955.0,252.5 1972.0,253.3 1989.9,254.0 2005.9,254.6 2017.0,255.0" fill="none" stroke="#000" stroke-width="9" stroke-linejoin="round" stroke-linecap="round"/><polyline points="845.0,428.0 849.5,421.5 854.0,428.0" fill="none" stroke="#000" stroke-width="9" stroke-linejoin="round" stroke-linecap="round"/><polyline points="897.5,423.0 898.5,414.0 900.5,414.0 901.5,423.0" fill="none" stroke="#000" stroke-width="9" stroke-linejoin="round" stroke-linecap="round"/></svg></body></html>
